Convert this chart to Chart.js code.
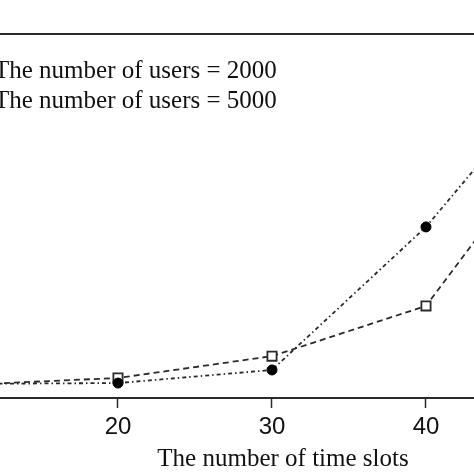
<!DOCTYPE html>
<html>
<head>
<meta charset="utf-8">
<script src="https://cdn.jsdelivr.net/npm/chart.js@4.4.0/dist/chart.umd.min.js"></script>
<style>
  html, body { margin: 0; padding: 0; background: #fff; overflow: hidden; }
  #wrap { position: absolute; left: -60px; top: 0; width: 686px; height: 474px; }
</style>
</head>
<body>
<div id="wrap"><canvas id="chart"></canvas></div>
<script>
// dati (asse y in unita' arbitrarie 0-100)
const timeSlots = [10, 20, 30, 40, 50];
const users2000 = [3.9, 4.1, 7.7, 47.0, 97.3];
const users5000 = [3.6, 5.5, 11.5, 25.3, 81.6];
const xTicks = [20, 30, 40];
const labels = ['The number of users = 2000', 'The number of users = 5000'];

const ink = '#2a2a2a';

// legenda disegnata a mano (i simboli finiscono fuori dal bordo sinistro)
const legendPlugin = {
    id: 'legendText',
    afterDraw(chart) {
        const ctx = chart.ctx;
        ctx.save();
        ctx.font = '25px "Liberation Serif", "DejaVu Serif", serif';
        ctx.fillStyle = '#111';
        ctx.textBaseline = 'middle';
        const rows = [71, 101];
        chart.data.datasets.forEach((ds, i) => {
            ctx.strokeStyle = ink;
            ctx.lineWidth = 1.8;
            ctx.setLineDash(ds.borderDash);
            ctx.beginPath();
            ctx.moveTo(5, rows[i]);
            ctx.lineTo(48, rows[i]);
            ctx.stroke();
            ctx.setLineDash([]);
            ctx.fillText(ds.label, 54, rows[i]);
        });
        ctx.restore();
    }
};

new Chart(document.getElementById('chart').getContext('2d'), {
    type: 'line',
    data: {
        datasets: [{
            label: labels[0],
            data: timeSlots.map((t, i) => ({ x: t, y: users2000[i] })),
            borderColor: ink,
            borderWidth: 1.8,
            borderDash: [4, 3, 1.5, 3],
            pointStyle: 'circle',
            pointRadius: 5,
            pointBackgroundColor: '#000',
            pointBorderColor: '#000',
            pointBorderWidth: 1,
            tension: 0
        }, {
            label: labels[1],
            data: timeSlots.map((t, i) => ({ x: t, y: users5000[i] })),
            borderColor: ink,
            borderWidth: 1.8,
            borderDash: [6, 4],
            pointStyle: 'rect',
            pointRadius: 6.5,
            pointBackgroundColor: '#fff',
            pointBorderColor: ink,
            pointBorderWidth: 1.8,
            tension: 0
        }]
    },
    options: {
        responsive: true,
        maintainAspectRatio: false,
        animation: false,
        layout: { padding: 0, autoPadding: false },
        plugins: {
            legend: { display: false },
            tooltip: { enabled: false }
        },
        scales: {
            x: {
                type: 'linear',
                position: 'bottom',
                min: 8.442,
                max: 52.987,
                afterBuildTicks(scale) {
                    scale.ticks = xTicks.map(v => ({ value: v }));
                },
                afterFit(scale) { scale.height = 76; },
                grid: {
                    drawOnChartArea: false,
                    drawTicks: true,
                    tickLength: 10,
                    tickWidth: 1.5,
                    tickColor: ink
                },
                border: { display: true, color: ink, width: 2 },
                ticks: {
                    color: '#111',
                    padding: 5,
                    font: { family: '"Liberation Sans", Arial, sans-serif', size: 24 }
                },
                title: {
                    display: true,
                    text: 'The number of time slots',
                    color: '#111',
                    padding: { top: 0, bottom: 0 },
                    font: { family: '"Liberation Serif", "DejaVu Serif", serif', size: 25 }
                }
            },
            x2: {
                type: 'linear',
                position: 'top',
                min: 8.442,
                max: 52.987,
                afterFit(scale) { scale.height = 34; },
                grid: { display: false },
                ticks: { display: false },
                border: { display: true, color: ink, width: 2 }
            },
            y: {
                display: false,
                min: 0,
                max: 100
            }
        }
    },
    plugins: [legendPlugin]
});
</script>
</body>
</html>
